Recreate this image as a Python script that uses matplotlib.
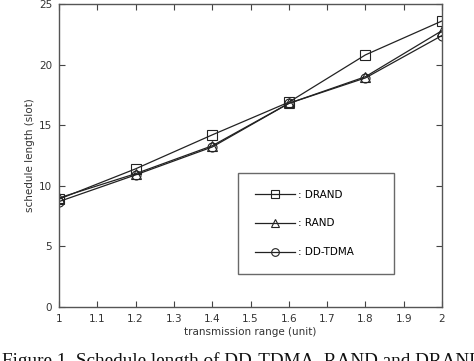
import matplotlib
matplotlib.use("Agg")
import matplotlib.pyplot as plt

x = [1.0, 1.2, 1.4, 1.6, 1.8, 2.0]
drand = [8.9, 11.4, 14.2, 16.9, 20.8, 23.6]
rand_ = [9.0, 11.0, 13.3, 16.8, 19.0, 22.8]
ddtdma = [8.7, 10.9, 13.2, 16.8, 18.9, 22.4]
labels = [": DRAND", ": RAND", ": DD-TDMA"]
xticks = [1, 1.1, 1.2, 1.3, 1.4, 1.5, 1.6, 1.7, 1.8, 1.9, 2]
xticklabels = ["1", "1.1", "1.2", "1.3", "1.4", "1.5", "1.6", "1.7", "1.8", "1.9", "2"]
yticks = [0, 5, 10, 15, 20, 25]

fig = plt.figure(figsize=(4.74, 3.61), dpi=100)
ax = fig.add_axes([59/474, 1-307/361, (442-59)/474, (307-4)/361])

lc = "#222222"
kw = dict(color=lc, lw=0.9, markersize=6.5, markerfacecolor="none", markeredgecolor=lc, markeredgewidth=0.8)
ax.plot(x, drand, marker="s", label=labels[0], **kw)
ax.plot(x, rand_, marker="^", label=labels[1], **kw)
ax.plot(x, ddtdma, marker="o", label=labels[2], **kw)

ax.set_xlim(1, 2)
ax.set_ylim(0, 25)
ax.set_xticks(xticks)
ax.set_xticklabels(xticklabels)
ax.set_yticks(yticks)
ax.tick_params(direction="in", top=True, right=True, labelsize=7.5, length=4, width=0.8, colors="#444444", labelcolor="#333333", pad=5)
for s in ax.spines.values():
    s.set_color("#555555")
    s.set_linewidth(1.0)
ax.set_xlabel("transmission range (unit)", fontsize=7.5, color="#333333", labelpad=2)
ax.set_ylabel("schedule length (slot)", fontsize=7.5, color="#333333", labelpad=3)

leg = ax.legend(loc="upper left", bbox_to_anchor=((238-59)/383, (307-270)/303, (394-238)/383, (270-173)/303),
                mode="expand", fontsize=7.5, frameon=True, fancybox=False, edgecolor="#444444",
                handlelength=3.9, labelspacing=1.8, borderpad=1.6, handletextpad=0.3, borderaxespad=0,
                markerscale=0.85)
leg.get_frame().set_linewidth(1.0)

fig.text(2/474, 1-366/361, "Figure 1. Schedule length of DD-TDMA, RAND and DRAND", fontsize=13.8,
         family="Liberation Serif", color="#111111", ha="left", va="baseline")

fig.savefig("out.png", dpi=100)
